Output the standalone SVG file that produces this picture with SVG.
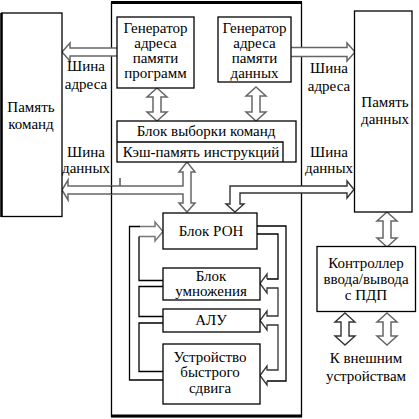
<svg xmlns="http://www.w3.org/2000/svg" width="419" height="419" viewBox="0 0 419 419">
<style>
.box{fill:#fff;stroke:#000;stroke-width:1.3}
.t{font-family:'Liberation Serif','Tinos','Times New Roman','DejaVu Serif',serif;font-size:15px;fill:#000;text-anchor:middle}
.bus{fill:#fff;stroke:#666;stroke-width:1.5;stroke-linejoin:miter}
.busd{fill:#fff;stroke:#333;stroke-width:1.4}
.ln{fill:none;stroke:#000;stroke-width:1.3}
.lg{fill:none;stroke:#777;stroke-width:1.5}
</style>
<rect width="419" height="419" fill="#fff"/>
<g id="processor">
<rect x="111.5" y="2.5" width="190" height="414" fill="none" stroke="#000" stroke-width="1.3"/>
<line x1="111" y1="2.5" x2="302" y2="2.5" stroke="#000" stroke-width="3"/>
<line x1="111" y1="416" x2="302" y2="416" stroke="#000" stroke-width="3"/>
</g>
<g id="connectors">
<path class="bus" d="M117,48 H70 V43 L62,52 L70,61 V56 H117"/>
<path class="bus" d="M291,47.5 H347 V43 L355,52 L347,61 V56.5 H291"/>
<path class="bus" d="M157,88 L167,97 H161 V112 H167 L157,121 L147,112 H153 V97 H147 Z"/>
<path class="bus" d="M256,87 L266,96 H260 V112 H266 L256,121 L246,112 H252 V96 H246 Z"/>
<path class="bus" d="M187,162 L195,172 H191 V203 H195 L187,212 L179,203 H183 V194 H68 V200 L62,190 L68,180 V186 H183 V172 H179 Z"/>
<line x1="111.5" y1="186" x2="111.5" y2="194" stroke="#000" stroke-width="1.3"/>
<line x1="120" y1="178" x2="120" y2="185.5" stroke="#000" stroke-width="1"/>
<path class="busd" d="M235,212 L244,204 H240 V193 H347 V198 L354,189.5 L347,181 V186 H230 V204 H226 Z"/>
<path class="bus" d="M387,212 L397,221 H391 V238 H397 L387,247 L377,238 H383 V221 H377 Z"/>
<path class="busd" d="M345,313 L355,322 H349 V336 H355 L345,345 L335,336 H341 V322 H335 Z"/>
<path class="bus" d="M387,313 L397,322 H391 V336 H397 L387,345 L377,336 H383 V322 H377 Z"/>
<path class="ln" d="M163,380 H129.5 V226.5 H140"/>
<path class="lg" d="M140,226.5 H155 V222 L163,231.5 L155,241 V236.5 H139"/>
<path class="ln" d="M139,236.5 V280.5 H163"/>
<path class="ln" d="M163,286.5 H139 V316.5 H163"/>
<path class="ln" d="M163,323 H139 V371.5 H163"/>
<path class="ln" d="M257,226 H286 V381 H267"/>
<path class="ln" d="M257,234 H278 V279 H267"/>
<path fill="none" stroke="#333" stroke-width="1.3" d="M267,279 V274 L260,283.5 L267,293 V288 H278 V316 H267 V311 L260,320.5 L267,330 V325 H278 V370 H267 V366 L260,375.5 L267,385 V381"/>
</g>
<g id="mem-cmd">
<rect class="box" x="1.5" y="13" width="60.5" height="203.5"/>
<line x1="1.5" y1="13" x2="1.5" y2="217" stroke="#000" stroke-width="2.5"/>
<text class="t" x="31" y="112">Память</text>
<text class="t" x="31" y="129">команд</text>
</g>
<g id="mem-data">
<rect class="box" x="354.5" y="11" width="57.5" height="201"/>
<text class="t" x="385" y="107">Память</text>
<text class="t" x="385" y="124">данных</text>
</g>
<g id="gen-prog">
<rect class="box" x="117" y="17" width="77" height="71"/>
<text class="t" x="155.5" y="33">Генератор</text>
<text class="t" x="155.5" y="48">адреса</text>
<text class="t" x="155.5" y="63">памяти</text>
<text class="t" x="155.5" y="78">программ</text>
</g>
<g id="gen-data">
<rect class="box" x="218" y="17" width="73" height="65"/>
<text class="t" x="254.5" y="33">Генератор</text>
<text class="t" x="254.5" y="48">адреса</text>
<text class="t" x="254.5" y="63">памяти</text>
<text class="t" x="254.5" y="78">данных</text>
</g>
<g id="fetch">
<rect class="box" x="117" y="121" width="179" height="41"/>
<path class="ln" d="M117,142 H283 V162"/>
<text class="t" x="206" y="136">Блок выборки команд</text>
<text class="t" x="201" y="157">Кэш-память инструкций</text>
</g>
<g id="labels">
<text class="t" x="86" y="71">Шина</text>
<text class="t" x="86" y="89">адреса</text>
<text class="t" x="86" y="157">Шина</text>
<text class="t" x="86" y="173">данных</text>
<text class="t" x="329" y="73">Шина</text>
<text class="t" x="329" y="91">адреса</text>
<text class="t" x="329" y="157">Шина</text>
<text class="t" x="329" y="173">данных</text>
<text class="t" x="366" y="363">К внешним</text>
<text class="t" x="366" y="381">устройствам</text>
</g>
<g id="ron">
<rect class="box" x="163" y="213" width="94" height="36"/>
<text class="t" x="211" y="236">Блок РОН</text>
</g>
<g id="mult">
<rect class="box" x="163" y="268" width="97" height="32"/>
<text class="t" x="211" y="281">Блок</text>
<text class="t" x="211" y="296">умножения</text>
</g>
<g id="alu">
<rect class="box" x="163" y="309" width="97" height="23"/>
<text class="t" x="211" y="325">АЛУ</text>
</g>
<g id="shift">
<rect class="box" x="163" y="344" width="97" height="60"/>
<text class="t" x="210" y="362">Устройство</text>
<text class="t" x="210" y="377">быстрого</text>
<text class="t" x="210" y="393">сдвига</text>
</g>
<g id="ctrl">
<rect class="box" x="317" y="246.5" width="98.5" height="65"/>
<text class="t" x="366" y="268">Контроллер</text>
<text class="t" x="366" y="284">ввода/вывода</text>
<text class="t" x="366" y="300">с ПДП</text>
</g>
</svg>
